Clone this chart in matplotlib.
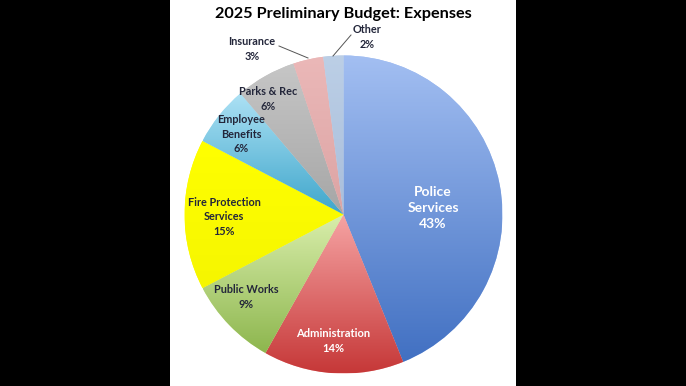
import numpy as np
import matplotlib.pyplot as plt
from matplotlib.colors import LinearSegmentedColormap
from matplotlib.patches import Rectangle

plt.rcParams['font.family'] = ['Lato', 'DejaVu Sans']

categories = ['Police Services', 'Administration', 'Public Works', 'Fire Protection Services',
              'Employee Benefits', 'Parks & Rec', 'Insurance', 'Other']
shares = [43, 14, 9, 15, 6, 6, 3, 2]
labels = ['Police\nServices\n43%', 'Administration\n14%', 'Public Works\n9%',
          'Fire Protection\nServices\n15%', 'Employee\nBenefits\n6%', 'Parks & Rec\n6%',
          'Insurance\n3%', 'Other\n2%']
# (top colour, bottom colour) for the gradient of each slice
grads = [('#a3bff2', '#4170c2'), ('#f6a4a4', '#c63838'), ('#d9eeab', '#8db64e'),
         ('#ffff00', '#f6f600'), ('#aee2f5', '#3ea6cb'), ('#c6c6c6', '#a6a6a6'),
         ('#ebb8b8', '#dca4a4'), ('#bccfe6', '#a9bedb')]

W, H = 686, 386
fig = plt.figure(figsize=(6.86, 3.86), dpi=100, facecolor='black')
ax = fig.add_axes([0, 0, 1, 1])
ax.set_facecolor('black')
ax.add_patch(Rectangle((170, 0), 346, H, facecolor='white', edgecolor='none', zorder=0))

cx, cy, r = 343.5, H - 214.5, 159
wedges, _ = ax.pie(shares, colors=[g[0] for g in grads], startangle=90, counterclock=False,
                   center=(cx, cy), radius=r, frame=True,
                   wedgeprops=dict(linewidth=0, zorder=1))

grad = np.linspace(0, 1, 256).reshape(-1, 1)
for w, (top, bot) in zip(wedges, grads):
    ext = w.get_path().get_extents()
    cmap = LinearSegmentedColormap.from_list('g', [bot, top])
    im = ax.imshow(grad, cmap=cmap, origin='lower', aspect='auto', zorder=2,
                   extent=(ext.x0, ext.x1, ext.y0, ext.y1), interpolation='bilinear')
    im.set_clip_path(w)

ax.set_xlim(0, W)
ax.set_ylim(0, H)
ax.set_aspect('equal')
ax.axis('off')

ax.text(343, H - 14, '2025 Preliminary Budget: Expenses', ha='center', va='center',
        fontsize=11.7, fontweight='bold', color='black', zorder=5)

dark = '#23263a'
pos = [(433, 208), (333, 341), (246, 297), (224, 217), (241, 134), (268, 99), (252, 49), (367, 37)]
for i, (lab, (x, y)) in enumerate(zip(labels, pos)):
    white = i < 2
    if i == 0:
        fs, ls = 10, 1.45
    elif i == 1:
        fs, ls = 8, 1.45
    else:
        fs, ls = 7.8, 1.4
    ax.text(x, H - y, lab, ha='center', va='center', fontweight='bold', fontsize=fs,
            color='white' if white else dark, linespacing=ls, zorder=5)

# leader lines for the thin slices
ax.plot([279, 308], [H - 46, H - 58], color='#555555', lw=0.7, zorder=5)
ax.plot([351, 333], [H - 35, H - 56], color='#555555', lw=0.7, zorder=5)

fig.savefig('out.png', dpi=100, facecolor='black')
